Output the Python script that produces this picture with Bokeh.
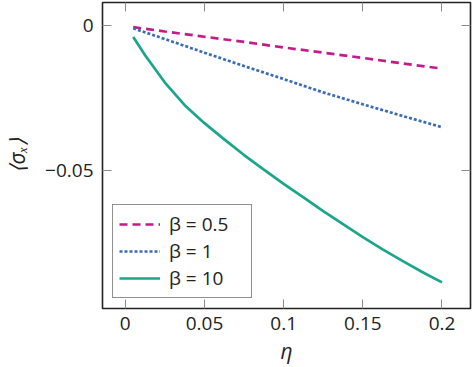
from bokeh.plotting import figure
from bokeh.models import LinearAxis, FixedTicker, Range1d, Legend, LegendItem
from bokeh.embed import file_html
from bokeh.resources import INLINE

eta = [0.005, 0.025, 0.05, 0.075, 0.1, 0.125, 0.15, 0.175, 0.2]
sigma_beta05 = [-0.0006, -0.0021, -0.0039, -0.0057, -0.0076, -0.0094, -0.0112, -0.0131, -0.0149]
sigma_beta1 = [-0.0010, -0.0047, -0.0094, -0.0140, -0.0185, -0.0231, -0.0272, -0.0312, -0.0351]

eta_fine = [0.005, 0.0125, 0.025, 0.0375, 0.05, 0.0625, 0.075, 0.0875, 0.1,
            0.1125, 0.125, 0.1375, 0.15, 0.1625, 0.175, 0.1875, 0.2]
sigma_beta10 = [-0.0040, -0.0103, -0.0197, -0.0275, -0.0337, -0.0393, -0.0447, -0.0497, -0.0546,
                -0.0593, -0.0640, -0.0685, -0.0730, -0.0772, -0.0812, -0.0850, -0.0886]

x_ticks = [0, 0.05, 0.1, 0.15, 0.2]
x_tick_labels = ["0", "0.05", "0.1", "0.15", "0.2"]
y_ticks = [0, -0.05]
y_tick_labels = ["0", "\u22120.05"]

FONT = "Open Sans"
TICK_COLOR = "#8a8a8a"
TEXT_COLOR = "#222222"

p = figure(width=474, height=367, output_backend="svg", toolbar_location=None,
           x_range=Range1d(-0.0144, 0.218), y_range=Range1d(-0.0976, 0.0079),
           min_border_top=2, min_border_right=4, min_border_left=98, min_border_bottom=59)
p.grid.visible = False
p.outline_line_color = TEXT_COLOR
p.outline_line_width = 1.6
p.background_fill_color = "white"
p.border_fill_color = "white"

for ax in (p.xaxis[0], p.yaxis[0]):
    ax.axis_line_color = None
    ax.major_tick_in = 9
    ax.major_tick_out = 0
    ax.major_tick_line_color = TICK_COLOR
    ax.minor_tick_line_color = None
    ax.major_label_text_font = FONT
    ax.major_label_text_font_size = "19px"
    ax.major_label_text_color = TEXT_COLOR
    ax.axis_label_text_font = FONT
    ax.axis_label_text_font_style = "italic"
    ax.axis_label_text_font_size = "21px"
    ax.axis_label_text_color = TEXT_COLOR

p.xaxis[0].ticker = FixedTicker(ticks=x_ticks)
p.xaxis[0].major_label_overrides = dict(zip(x_ticks, x_tick_labels))
p.xaxis[0].major_label_standoff = 8
p.xaxis[0].axis_label = "\u03b7"
p.xaxis[0].axis_label_standoff = 4

p.yaxis[0].ticker = FixedTicker(ticks=y_ticks)
p.yaxis[0].major_label_overrides = dict(zip(y_ticks, y_tick_labels))
p.yaxis[0].major_label_standoff = 9
p.yaxis[0].axis_label = "\u27e8\u03c3\u2093\u27e9"
p.yaxis[0].axis_label_standoff = 11

top = LinearAxis(ticker=FixedTicker(ticks=x_ticks), axis_line_color=None,
                 major_tick_in=9, major_tick_out=0, major_tick_line_color=TICK_COLOR,
                 minor_tick_line_color=None, major_label_text_font_size="1px",
                 major_label_text_color=None, major_label_standoff=0)
right = LinearAxis(ticker=FixedTicker(ticks=y_ticks), axis_line_color=None,
                   major_tick_in=9, major_tick_out=0, major_tick_line_color=TICK_COLOR,
                   minor_tick_line_color=None, major_label_text_font_size="1px",
                   major_label_text_color=None, major_label_standoff=0)
p.add_layout(top, "above")
p.add_layout(right, "right")

r1 = p.line(eta, sigma_beta05, line_color="#C41A8A", line_width=2.7, line_dash="8 5")
r2 = p.line(eta, sigma_beta1, line_color="#3B6CB5", line_width=2.7, line_dash="3 2")
r3 = p.line(eta_fine, sigma_beta10, line_color="#1AA68A", line_width=2.7)

legend = Legend(items=[LegendItem(label="\u03b2 = 0.5", renderers=[r1]),
                       LegendItem(label="\u03b2 = 1", renderers=[r2]),
                       LegendItem(label="\u03b2 = 10", renderers=[r3])],
                location=(10, 10), margin=0, padding=6, spacing=1,
                glyph_width=41, glyph_height=24, label_height=24, label_width=76,
                label_standoff=9,
                label_text_font=FONT, label_text_font_size="19px", label_text_color=TEXT_COLOR,
                border_line_color=TEXT_COLOR, border_line_width=1.3,
                background_fill_alpha=1.0)
p.add_layout(legend, "center")

open("out.html", "w").write(file_html(p, INLINE))
